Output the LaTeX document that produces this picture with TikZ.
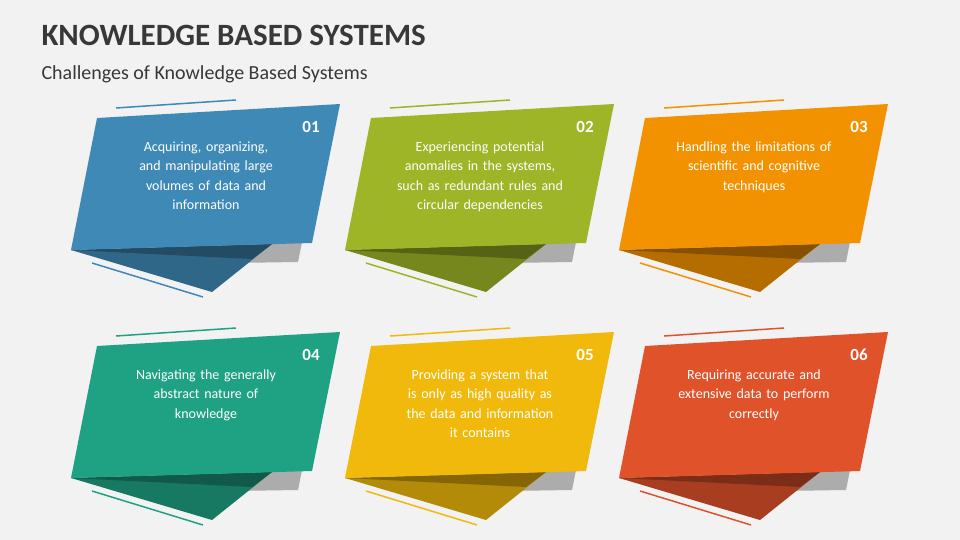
\documentclass[tikz,border=0pt]{standalone}
\usepackage{fontspec}
\setmainfont{Carlito}
\begin{document}
\begin{tikzpicture}[x=1pt,y=-1pt,
  cardtext/.style={text=white,align=center,font=\fontsize{14}{19.5}\selectfont,text width=190pt},
  cardnum/.style={text=white,font=\bfseries\fontsize{17}{20}\selectfont},
  deco/.style={line width=1.5pt}]
\useasboundingbox (0,0) rectangle (960,540);
\fill[gray!10] (0,0) rectangle (960,540);
\node[anchor=west,text=black!78,font=\bfseries\fontsize{31}{36}\selectfont] (title) at (38,35) {KNOWLEDGE BASED SYSTEMS};
\node[anchor=west,text=black!78,font=\fontsize{20}{24}\selectfont] (sub) at (38,74) {Challenges of Knowledge Based Systems};
\newcommand{\card}[6]{%
 \begin{scope}[shift={(#1,#2)}]
  \fill[gray!65] (267,243) -- (302,242) -- (298,262) -- (233,263) -- cycle;
  \fill[#3!75!black] (71,250) -- (272,244) -- (212,292) -- cycle;
  \fill[#3!55!black] (71,250) -- (272,244) -- (252,259) -- cycle;
  \fill[#3] (97,118) -- (340,104) -- (312,243) -- (71,250) -- cycle;
  \draw[deco,#3] (116,108) -- (236,100);
  \draw[deco,#3] (92,263) -- (203,297);
  \node[cardnum] (n#4) at (311,127) {#4};
  \node[cardtext,anchor=north] (t#4) at (206,138) {#5};
 \end{scope}}
\definecolor{c1}{HTML}{3F89B6}
\definecolor{c2}{HTML}{9DB526}
\definecolor{c3}{HTML}{F39200}
\definecolor{c4}{HTML}{1FA283}
\definecolor{c5}{HTML}{F0B90B}
\definecolor{c6}{HTML}{E0522A}
\card{0}{0}{c1}{01}{Acquiring, organizing,\\and manipulating large\\volumes of data and\\information}{}
\card{274}{0}{c2}{02}{Experiencing potential\\anomalies in the systems,\\such as redundant rules and\\circular dependencies}{}
\card{548}{0}{c3}{03}{Handling the limitations of\\scientific and cognitive\\techniques}{}
\card{0}{228}{c4}{04}{Navigating the generally\\abstract nature of\\knowledge}{}
\card{274}{228}{c5}{05}{Providing a system that\\is only as high quality as\\the data and information\\it contains}{}
\card{548}{228}{c6}{06}{Requiring accurate and\\extensive data to perform\\correctly}{}
\end{tikzpicture}
\end{document}
